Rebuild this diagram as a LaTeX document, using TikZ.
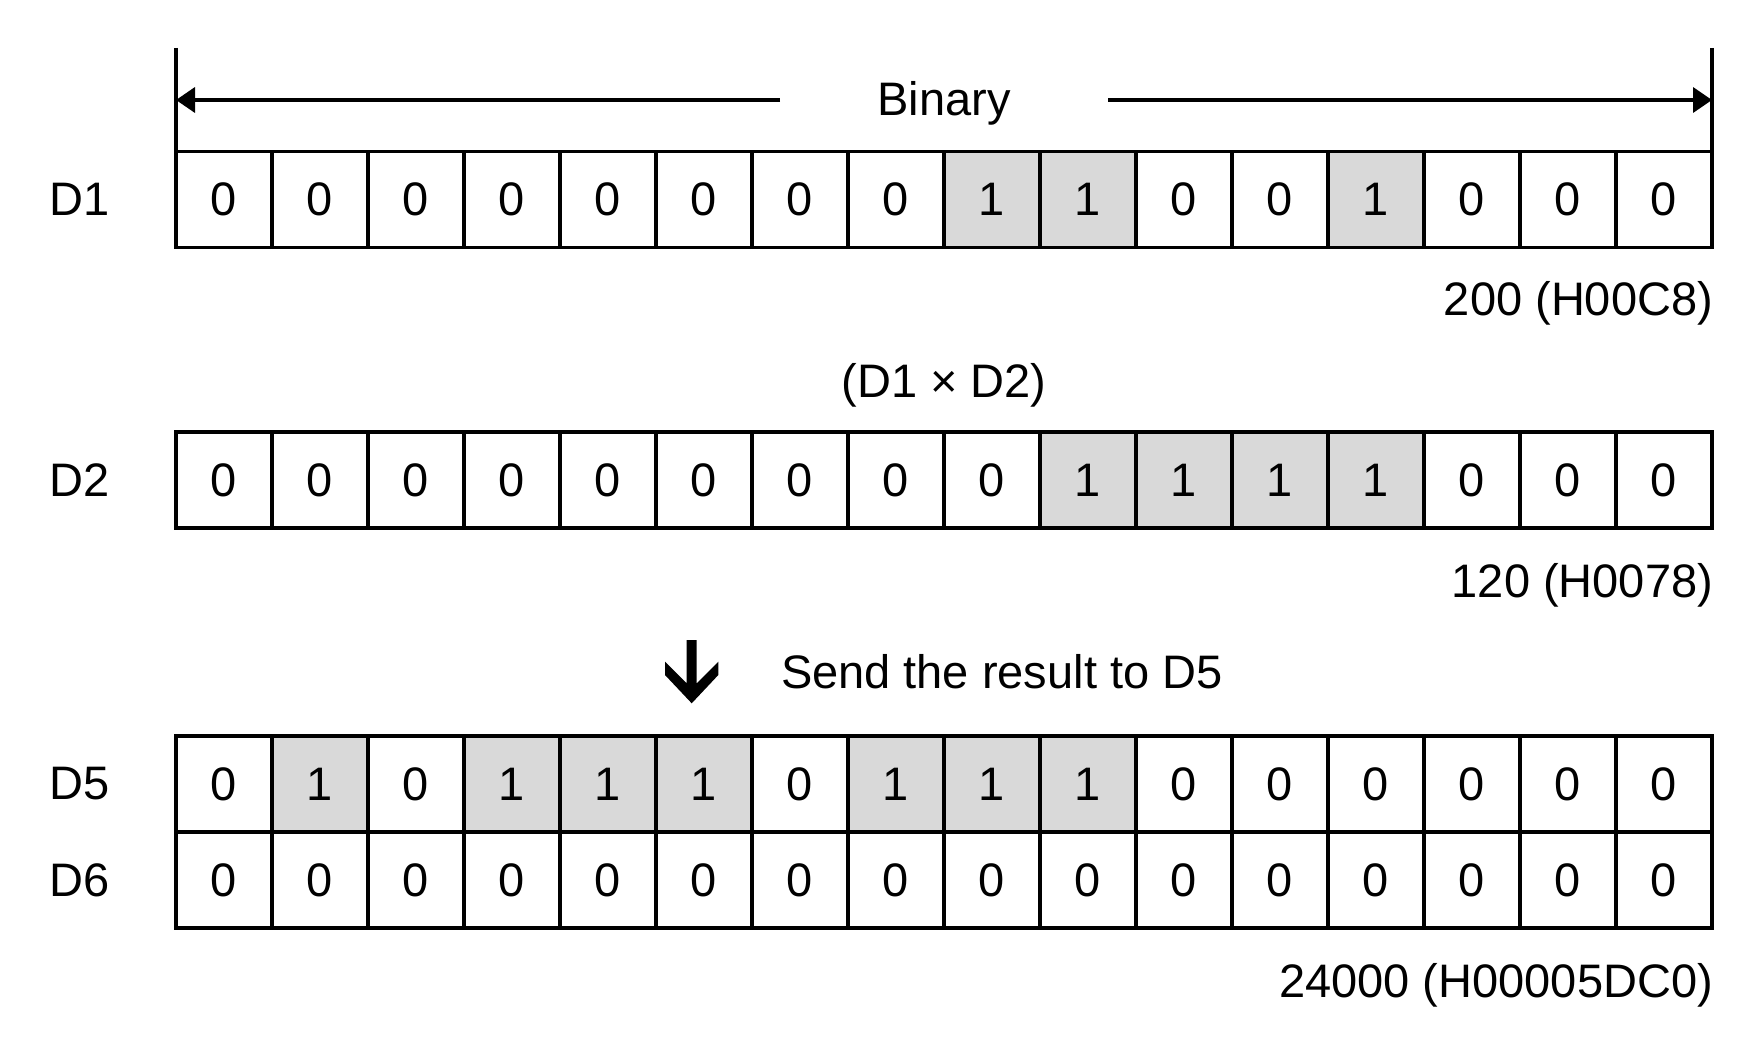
\documentclass[tikz,border=0pt]{standalone}
\usepackage{fontspec}
\setmainfont{Liberation Sans}
\usetikzlibrary{arrows.meta}
\definecolor{cellgray}{HTML}{D9D9D9}
\begin{document}
\begin{tikzpicture}[x=1pt,y=-1pt,line width=3.6pt,
  txt/.style={font=\fontsize{47}{57}\selectfont, inner sep=0pt, outer sep=0pt},
  cell/.style={txt, draw, minimum width=96pt, minimum height=96pt},
  bit0/.style={fill=white},
  bit1/.style={fill=cellgray},
  dimarrow/.style={-{Triangle[length=19pt,width=25pt]}}]
\useasboundingbox (0,0) rectangle (1760,1056);
% rows
\foreach \b [count=\i] in {0,0,0,0,0,0,0,0,1,1,0,0,1,0,0,0}
  \node[cell,bit\b] (d1-\i) at ({128+96*\i},199.5) {\b};
\foreach \b [count=\i] in {0,0,0,0,0,0,0,0,0,1,1,1,1,0,0,0}
  \node[cell,bit\b] (d2-\i) at ({128+96*\i},480) {\b};
\foreach \b [count=\i] in {0,1,0,1,1,1,0,1,1,1,0,0,0,0,0,0}
  \node[cell,bit\b] (d5-\i) at ({128+96*\i},784) {\b};
\foreach \b [count=\i] in {0,0,0,0,0,0,0,0,0,0,0,0,0,0,0,0}
  \node[cell,bit\b] (d6-\i) at ({128+96*\i},880) {\b};
% row labels
\node[txt] (lD1) at (80,199.5) {D1};
\node[txt] (lD2) at (80,480) {D2};
\node[txt] (lD5) at (80,784) {D5};
\node[txt] (lD6) at (80,880) {D6};
% binary dimension
\coordinate (tl) at (176,48);
\coordinate (tr) at (1712,48);
\draw (tl) -- (d1-1.north west);
\draw (tr) -- (d1-16.north east);
\coordinate (al) at (176,100);
\coordinate (ar) at (1712,100);
\coordinate (bl) at (780,100);
\coordinate (br) at (1108,100);
\draw[dimarrow] (bl) -- (al);
\draw[dimarrow] (br) -- (ar);
\node[txt,anchor=base] (binary) at (944,116) {Binary};
% value labels
\node[txt,anchor=base east] (v1) at (1713,316) {200 (H00C8)};
\node[txt,anchor=base] (op) at (944,397) {(D1 × D2)};
\node[txt,anchor=base east] (v2) at (1713,597) {120 (H0078)};
\node[txt,anchor=base west] (send) at (781,688.5) {Send the result to D5};
\node[txt,anchor=base east] (v5) at (1713,997) {24000 (H00005DC0)};
% down arrow
\fill (686.7,640) -- (696.7,640) -- (696.7,683.3) -- (718.3,661.7) -- (718.3,675)
  -- (691.7,703.3) -- (665,675) -- (665,661.7) -- (686.7,683.3) -- cycle;
\end{tikzpicture}
\end{document}
